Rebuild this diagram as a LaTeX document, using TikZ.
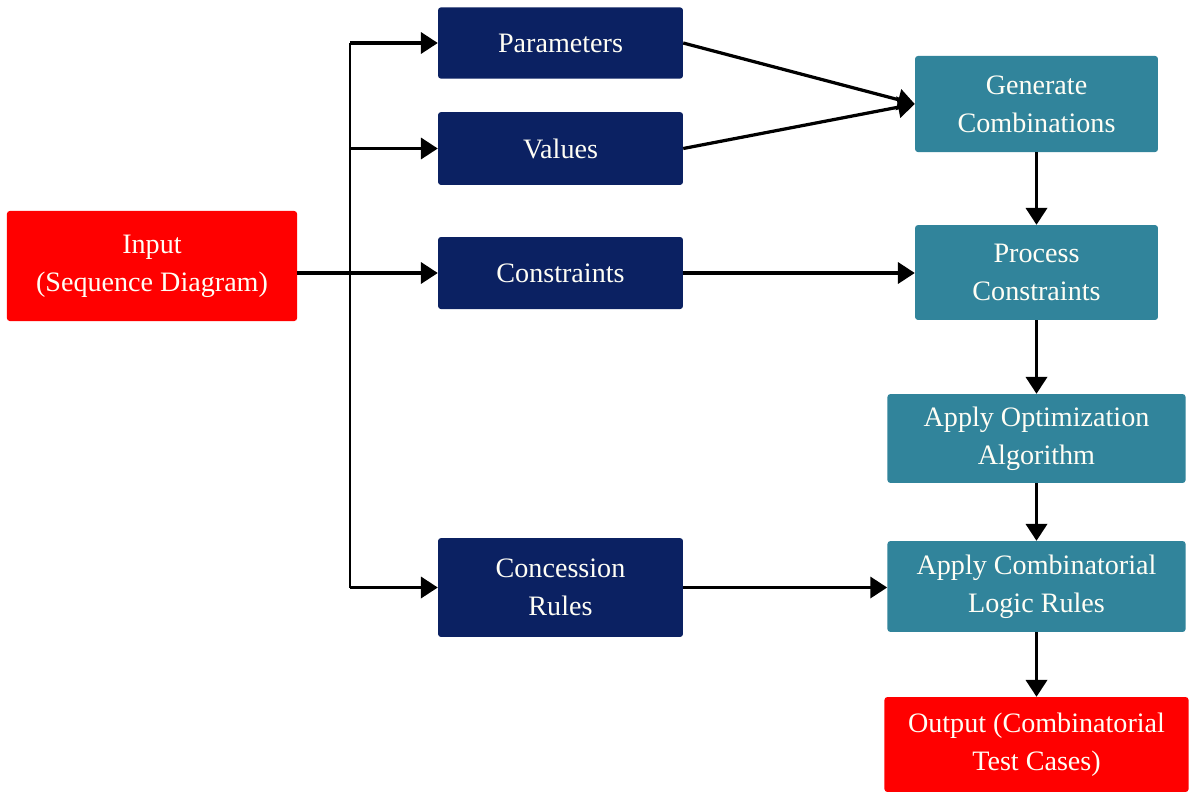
\documentclass[tikz,border=0pt]{standalone}
\usepackage{fontspec}
\setmainfont{Liberation Serif}
\usetikzlibrary{arrows.meta}
\definecolor{navybox}{HTML}{0B2162}
\definecolor{tealbox}{HTML}{31849B}
\definecolor{redbox}{HTML}{FF0000}
\begin{document}
\begin{tikzpicture}[x=0.025cm,y=-0.025cm,
  box/.style={rectangle,rounded corners=2pt,inner sep=0pt,align=center,
    text=white!96!yellow,font=\fontsize{20}{27}\selectfont},
  inbox/.style={box,fill=navybox,minimum width=6.12cm},
  stepbox/.style={box,fill=tealbox},
  endbox/.style={box,fill=redbox},
  arr/.style={line width=2.3pt,-{Triangle[length=12pt,width=15pt]}}]
\useasboundingbox[fill=white] (0,0) rectangle (1200,798);
% input and its parts
\node (input) at (152,266) [endbox,minimum width=7.25cm,minimum height=2.75cm]
  {Input\\(Sequence Diagram)};
\node (param) at (560.5,43) [inbox,minimum height=1.78cm] {Parameters};
\node (val) at (560.5,148.5) [inbox,minimum height=1.82cm] {Values};
\node (cons) at (560.5,273) [inbox,minimum height=1.8cm] {Constraints};
\node (conc) at (560.5,587.5) [inbox,minimum height=2.47cm] {Concession\\Rules};
% processing chain
\node (gen) at (1036.5,104) [stepbox,minimum width=6.07cm,minimum height=2.4cm]
  {Generate\\Combinations};
\node (proc) at (1036.5,272.5) [stepbox,minimum width=6.07cm,minimum height=2.37cm]
  {Process\\Constraints};
\node (opt) at (1036.5,438.5) [stepbox,minimum width=7.45cm,minimum height=2.22cm]
  {Apply Optimization\\Algorithm};
\node (logic) at (1036.5,586.5) [stepbox,minimum width=7.45cm,minimum height=2.27cm]
  {Apply Combinatorial\\Logic Rules};
\node (out) at (1036.5,744.5) [endbox,minimum width=7.6cm,minimum height=2.37cm]
  {Output (Combinatorial\\Test Cases)};
% branching from the input
\coordinate (top) at (350,43);
\coordinate (bot) at (350,587.5);
\draw[line width=1.4pt] (top) -- (bot);
\draw[line width=2.3pt] (input.east |- cons.west) -- (350,273);
\draw[arr] (top) -- (param.west);
\draw[arr] (350,148.5) -- (val.west);
\draw[arr] (350,273) -- (cons.west);
\draw[arr] (bot) -- (conc.west);
% into the chain
\draw[arr] (param.east) -- (gen.west);
\draw[arr] (val.east) -- (gen.west);
\draw[arr] (cons.east) -- (proc.west |- cons.east);
\draw[arr] (conc.east) -- (logic.west |- conc.east);
\draw[arr] (gen.south) -- (proc.north);
\draw[arr] (proc.south) -- (opt.north);
\draw[arr] (opt.south) -- (logic.north);
\draw[arr] (logic.south) -- (out.north);
\end{tikzpicture}
\end{document}
